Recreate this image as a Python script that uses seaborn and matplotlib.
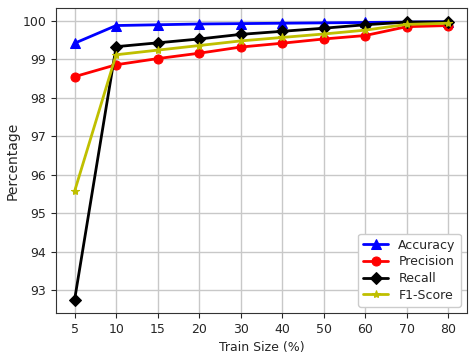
import numpy as np
import matplotlib
matplotlib.use('Agg')
import matplotlib.pyplot as plt
import pandas as pd
import seaborn as sns

train_sizes = ['5', '10', '15', '20', '30', '40', '50', '60', '70', '80']
accuracy = [99.42, 99.88, 99.90, 99.92, 99.93, 99.94, 99.95, 99.96, 99.97, 99.98]
precision = [98.55, 98.86, 99.02, 99.16, 99.32, 99.42, 99.53, 99.62, 99.85, 99.88]
recall = [92.75, 99.33, 99.43, 99.53, 99.65, 99.73, 99.81, 99.90, 99.97, 99.97]
f1score = [95.57, 99.12, 99.24, 99.36, 99.48, 99.57, 99.66, 99.76, 99.91, 99.94]

series = {'Accuracy': accuracy, 'Precision': precision, 'Recall': recall, 'F1-Score': f1score}
colors = {'Accuracy': 'b', 'Precision': 'r', 'Recall': 'k', 'F1-Score': 'y'}
markers = {'Accuracy': '^', 'Precision': 'o', 'Recall': 'D', 'F1-Score': '*'}
msizes = {'Accuracy': 6.5, 'Precision': 6.5, 'Recall': 6, 'F1-Score': 6}

sns.set_style("ticks")
plt.rcParams['font.family'] = ['DejaVu Sans']

fig, ax = plt.subplots(figsize=(4.74, 3.57), dpi=100)
xpos = np.arange(len(train_sizes))
for name, vals in series.items():
    sns.lineplot(x=xpos, y=vals, ax=ax, color=colors[name], marker=markers[name],
                 markersize=msizes[name], markeredgecolor=colors[name], linewidth=2, label=name)

ax.set_xticks(xpos)
ax.set_xticklabels(train_sizes, fontsize=9)
ax.set_yticks([93, 94, 95, 96, 97, 98, 99, 100])
ax.tick_params(axis='y', labelsize=9)
ax.set_xlim(-0.45, 9.45)
ax.set_ylim(92.4, 100.34)
ax.grid(True, color='#c8c8c8', linewidth=1)
ax.set_axisbelow(True)
for s in ax.spines.values():
    s.set_color('#333333')
ax.set_xlabel('Train Size (%)', fontsize=9)
ax.set_ylabel('Percentage', fontsize=10, labelpad=2)
ax.legend(loc='lower right', fontsize=9, framealpha=1, edgecolor='#cccccc',
          handlelength=2, borderpad=0.4, labelspacing=0.3)

plt.subplots_adjust(left=0.118, right=0.985, top=0.978, bottom=0.123)
plt.savefig('out.png', dpi=100)
